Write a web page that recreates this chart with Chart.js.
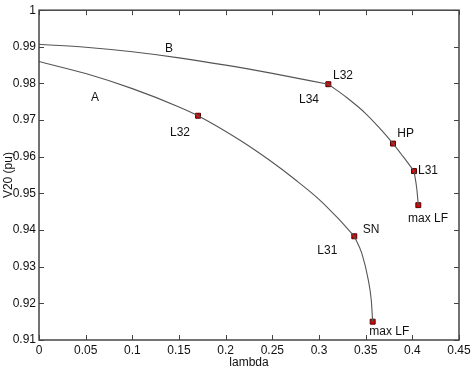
<!DOCTYPE html>
<html>
<head>
<meta charset="utf-8">
<script src="https://cdn.jsdelivr.net/npm/chart.js@4"></script>
<style>
  html, body { margin: 0; padding: 0; background: #fff; }
  #wrap { width: 474px; height: 368px; }
</style>
</head>
<body>
<div id="wrap"><canvas id="myChart" width="474" height="368"></canvas></div>
<script>
// curve A, up to SN
const a1Lambda = [0, 0.05, 0.1, 0.15, 0.1704, 0.2154, 0.25, 0.2743, 0.3, 0.32, 0.3378];
const a1V = [0.986, 0.9827, 0.9786, 0.9736, 0.9712, 0.9645, 0.9585, 0.9538, 0.9484, 0.9433, 0.9383];
// curve A, SN to max LF
const a2Lambda = [0.3378, 0.3458, 0.3528, 0.356, 0.3575];
const a2V = [0.9383, 0.9337, 0.9264, 0.9209, 0.915];
// curve B, up to the L32 corner
const b1Lambda = [0, 0.05, 0.1, 0.15, 0.2, 0.25, 0.31];
const b1V = [0.9907, 0.9899, 0.98865, 0.987, 0.985, 0.98275, 0.9798];
// curve B, L32 to L31
const b2Lambda = [0.31, 0.33, 0.35, 0.365, 0.3793, 0.39, 0.4018];
const b2V = [0.9798, 0.9761, 0.9718, 0.9678, 0.9636, 0.9601, 0.9561];
// curve B, L31 to max LF
const b3Lambda = [0.4018, 0.4047, 0.4064];
const b3V = [0.9561, 0.9514, 0.9468];
// marked points
const markLambda = [0.1704, 0.3378, 0.3575, 0.31, 0.3793, 0.4018, 0.4064];
const markV = [0.9712, 0.9383, 0.915, 0.9798, 0.9636, 0.9561, 0.9468];
// text labels
const labelText = ["A", "B", "L32", "L32", "L34", "HP", "L31", "max LF", "SN", "L31", "max LF"];
const labelLambda = [0.060, 0.1393, 0.1511, 0.3257, 0.2893, 0.3929, 0.4168, 0.4168, 0.3557, 0.3089, 0.3753];
const labelV = [0.976, 0.9894, 0.9667, 0.982, 0.9757, 0.9662, 0.9561, 0.943, 0.9401, 0.9345, 0.9122];

const xTicks = [0, 0.05, 0.1, 0.15, 0.2, 0.25, 0.3, 0.35, 0.4, 0.45];
const yTicks = [0.91, 0.92, 0.93, 0.94, 0.95, 0.96, 0.97, 0.98, 0.99, 1];

function pts(xs, ys) {
  return xs.map((x, i) => ({ x: x, y: ys[i] }));
}

function curve(xs, ys) {
  return {
    type: 'line',
    data: pts(xs, ys),
    borderColor: '#555',
    borderWidth: 1.1,
    pointRadius: 0,
    cubicInterpolationMode: 'monotone',
    fill: false
  };
}

const FONT = "'Liberation Sans', Arial, sans-serif";

// box, inward ticks and text labels
const framePlugin = {
  id: 'frame',
  afterDraw(chart) {
    const ctx = chart.ctx;
    const a = chart.chartArea;
    const xs = chart.scales.x, ys = chart.scales.y;
    ctx.save();
    ctx.strokeStyle = '#444';
    ctx.lineWidth = 1;
    ctx.beginPath();
    xTicks.forEach(v => {
      const px = Math.round(xs.getPixelForValue(v)) + 0.5;
      ctx.moveTo(px, a.bottom); ctx.lineTo(px, a.bottom - 5);
      ctx.moveTo(px, a.top); ctx.lineTo(px, a.top + 5);
    });
    yTicks.forEach(v => {
      const py = Math.round(ys.getPixelForValue(v)) + 0.5;
      ctx.moveTo(a.left, py); ctx.lineTo(a.left + 5, py);
      ctx.moveTo(a.right, py); ctx.lineTo(a.right - 5, py);
    });
    ctx.stroke();
    ctx.lineWidth = 1.5;
    ctx.strokeRect(a.left, a.top, a.right - a.left, a.bottom - a.top);

    ctx.fillStyle = '#111';
    ctx.font = '12px ' + FONT;
    ctx.textAlign = 'center';
    ctx.textBaseline = 'middle';
    labelText.forEach((t, i) => {
      ctx.fillText(t, xs.getPixelForValue(labelLambda[i]), ys.getPixelForValue(labelV[i]));
    });
    ctx.restore();
  }
};

const config = {
  type: 'scatter',
  data: {
    datasets: [
      curve(a1Lambda, a1V),
      curve(a2Lambda, a2V),
      curve(b1Lambda, b1V),
      curve(b2Lambda, b2V),
      curve(b3Lambda, b3V),
      {
        data: pts(markLambda, markV),
        pointStyle: 'rect',
        pointRadius: 3.5,
        backgroundColor: '#dd0000',
        borderColor: '#550000',
        borderWidth: 1
      }
    ]
  },
  options: {
    responsive: false,
    animation: false,
    layout: { padding: { top: 10, right: 15, left: 0, bottom: 0 } },
    plugins: {
      legend: { display: false },
      tooltip: { enabled: false }
    },
    scales: {
      x: {
        type: 'linear',
        min: 0,
        max: 0.45,
        afterBuildTicks: s => { s.ticks = xTicks.map(v => ({ value: v })); },
        afterFit: s => { s.height = 28; },
        grid: { display: false, drawTicks: false },
        border: { display: false },
        ticks: {
          color: '#111',
          font: { family: FONT, size: 12 },
          padding: 3,
          maxRotation: 0,
          callback: v => String(parseFloat(v.toFixed(2)))
        },
        title: {
          display: true,
          text: 'lambda',
          color: '#111',
          font: { family: FONT, size: 12 },
          padding: { top: 0, bottom: -2 }
        }
      },
      y: {
        type: 'linear',
        min: 0.91,
        max: 1,
        afterBuildTicks: s => { s.ticks = yTicks.map(v => ({ value: v })); },
        afterFit: s => { s.width = 39; },
        grid: { display: false, drawTicks: false },
        border: { display: false },
        ticks: {
          color: '#111',
          font: { family: FONT, size: 12 },
          padding: 3,
          callback: v => String(parseFloat(v.toFixed(2)))
        },
        title: {
          display: true,
          text: 'V20 (pu)',
          color: '#111',
          font: { family: FONT, size: 12 },
          padding: { top: 1, bottom: 0 }
        }
      }
    }
  },
  plugins: [framePlugin]
};

const myChart = new Chart(document.getElementById('myChart'), config);
</script>
</body>
</html>
